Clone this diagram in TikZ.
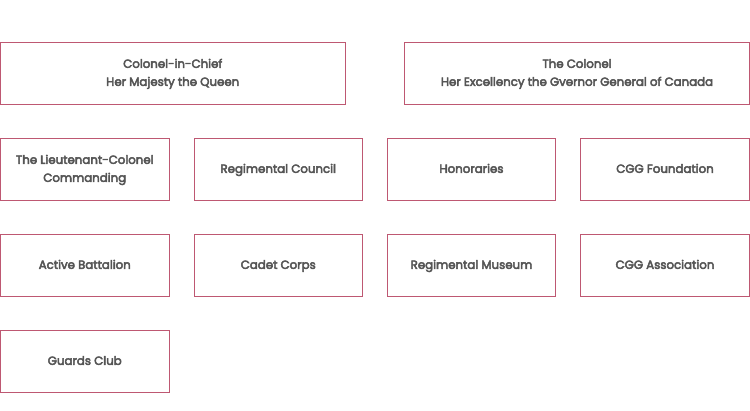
\documentclass[tikz,border=0pt]{standalone}
\usepackage{fontspec}
\setmainfont{Poppins}[FakeBold=4]
\definecolor{boxline}{RGB}{190,88,114}
\definecolor{txt}{RGB}{85,85,85}
\begin{document}
\begin{tikzpicture}[x=1pt,y=-1pt,
  orgbox/.style={draw=boxline,line width=1pt,fill=white,text=txt,font=\fontsize{11.8}{18}\selectfont,align=center,inner sep=0pt}]
\useasboundingbox (0,0) rectangle (750,410);
\newcommand{\obox}[6]{\node[orgbox,minimum width=#4-#2,minimum height=#5-#3] (#1) at ({(#2+#4)/2},{(#3+#5)/2}) {\raisebox{-2.5pt}{\begin{tabular}{@{}c@{}}#6\end{tabular}}};}
\obox{chief}{0.5}{42.5}{345}{104}{Colonel-in-Chief\\Her Majesty the Queen}
\obox{colonel}{404.5}{42.5}{749.5}{104}{The Colonel\\Her Excellency the Gvernor General of Canada}
\obox{lcol}{0.5}{138.5}{169}{200}{The Lieutenant-Colonel\\Commanding}
\obox{council}{194}{138.5}{362.5}{200}{Regimental Council}
\obox{hon}{387.5}{138.5}{555.5}{200}{Honoraries}
\obox{found}{580.5}{138.5}{749.5}{200}{CGG Foundation}
\obox{active}{0.5}{234.5}{169}{296}{Active Battalion}
\obox{cadet}{194}{234.5}{362.5}{296}{Cadet Corps}
\obox{museum}{387.5}{234.5}{555.5}{296}{Regimental Museum}
\obox{assoc}{580.5}{234.5}{749.5}{296}{CGG Association}
\obox{club}{0.5}{330.5}{169}{392}{Guards Club}
\end{tikzpicture}
\end{document}
